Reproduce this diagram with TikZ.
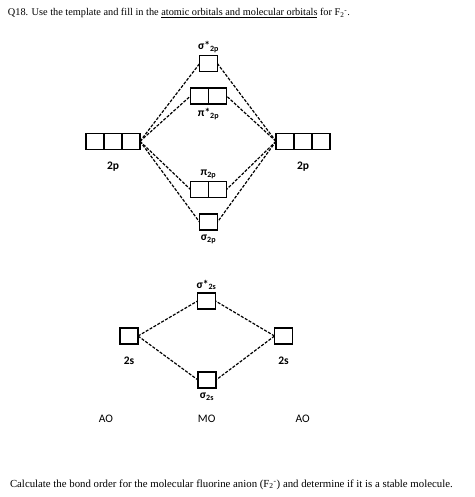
\documentclass[tikz,border=0pt]{standalone}
\usepackage{fontspec}
\setmainfont{Liberation Serif}
\newfontfamily\labfont{Carlito}
\usetikzlibrary{positioning}
\begin{document}
\begin{tikzpicture}[
    x=1pt, y=-1pt,
    every node/.append style = {inner sep=0pt, outer sep=0pt},
    orb/.style = {draw, line width=1.4pt, minimum width=18pt, minimum height=16pt},
    link/.style = {dash pattern=on 3pt off 1.5pt, line width=1.2pt},
    lab/.style = {font=\labfont\bfseries\fontsize{11.5}{12}\selectfont},
    side/.style = {font=\labfont\fontsize{11.5}{13}\selectfont},
    txt/.style = {anchor=base west},
  ]
  \useasboundingbox (0,0) rectangle (474,497);
  %%+++++++++++++++++++++++++
  % Variables
  % Box width
  \pgfmathsetmacro{\Wbox}{18}
  % Centre line of the MO column
  \pgfmathsetmacro{\xmo}{208.5}
  % Levels of the 2p part
  \pgfmathsetmacro{\ypao}{141.3}
  % Levels of the 2s part
  \pgfmathsetmacro{\ysao}{336}
  %%+++++++++++++++++++++++++
  % Texts
  \node[txt, font=\fontsize{10.3}{12}\selectfont] (title) at (8,16) {Q18. Use the template and fill in the \underline{atomic orbitals and molecular orbitals} for F\textsubscript{2}\textsuperscript{-}.};
  \node[txt, font=\fontsize{10.8}{12}\selectfont] (question) at (10,487) {Calculate the bond order for the molecular fluorine anion (F\textsubscript{2}\textsuperscript{-}) and determine if it is a stable molecule.};
  %%+++++++++++++++++++++++++
  % 2p atomic orbitals
  \node[orb] (pL1) at (95,\ypao) {};
  \node[orb] (pL2) at (95+\Wbox,\ypao) {};
  \node[orb] (pL3) at (95+2*\Wbox,\ypao) {};
  \node[lab, below=13pt of pL2] (pLlab) {2p};
  \node[orb] (pR1) at (285,\ypao) {};
  \node[orb] (pR2) at (285+\Wbox,\ypao) {};
  \node[orb] (pR3) at (285+2*\Wbox,\ypao) {};
  \node[lab, below=13pt of pR2] (pRlab) {2p};
  % 2p molecular orbitals
  \node[orb] (sgs2p) at (\xmo,63.7) {};
  \node[lab, above=3pt of sgs2p] (sgs2plab) {σ*\textsubscript{2p}};
  \node[orb] (pis1) at (\xmo-\Wbox/2,96) {};
  \node[orb] (pis2) at (\xmo+\Wbox/2,96) {};
  \node[lab, below=4pt of pis1.south east] (pislab) {π*\textsubscript{2p}};
  \node[orb] (pi1) at (\xmo-\Wbox/2,189.5) {};
  \node[orb] (pi2) at (\xmo+\Wbox/2,189.5) {};
  \node[lab, above=3pt of pi1.north east] (pilab) {π\textsubscript{2p}};
  \node[orb] (sg2p) at (\xmo,222) {};
  \node[lab, below=5pt of sg2p] (sg2plab) {σ\textsubscript{2p}};
  % 2p connectors
  \foreach \mo in {sgs2p, pis1, pi1, sg2p}
    \draw[link] (pL3.east) -- (\mo.west);
  \foreach \mo in {sgs2p, pis2, pi2, sg2p}
    \draw[link] (pR1.west) -- (\mo.east);
  %%+++++++++++++++++++++++++
  % 2s atomic orbitals
  \node[orb] (sL) at (129,\ysao) {};
  \node[lab, below=13pt of sL] (sLlab) {2s};
  \node[orb] (sR) at (283.5,\ysao) {};
  \node[lab, below=13pt of sR] (sRlab) {2s};
  % 2s molecular orbitals
  \node[orb] (sgs2s) at (206.5,301) {};
  \node[lab, above=3pt of sgs2s] (sgs2slab) {σ*\textsubscript{2s}};
  \node[orb] (sg2s) at (207,380) {};
  \node[lab, below=5pt of sg2s] (sg2slab) {σ\textsubscript{2s}};
  % 2s connectors
  \draw[link] (sL.east) -- (sgs2s.west);
  \draw[link] (sL.east) -- (sg2s.west);
  \draw[link] (sR.west) -- (sgs2s.east);
  \draw[link] (sR.west) -- (sg2s.east);
  %%+++++++++++++++++++++++++
  % Column names
  \node[side] (aoL) at (106,419) {AO};
  \node[side] (mo) at (206.7,419) {MO};
  \node[side] (aoR) at (302.7,419) {AO};
\end{tikzpicture}
\end{document}
